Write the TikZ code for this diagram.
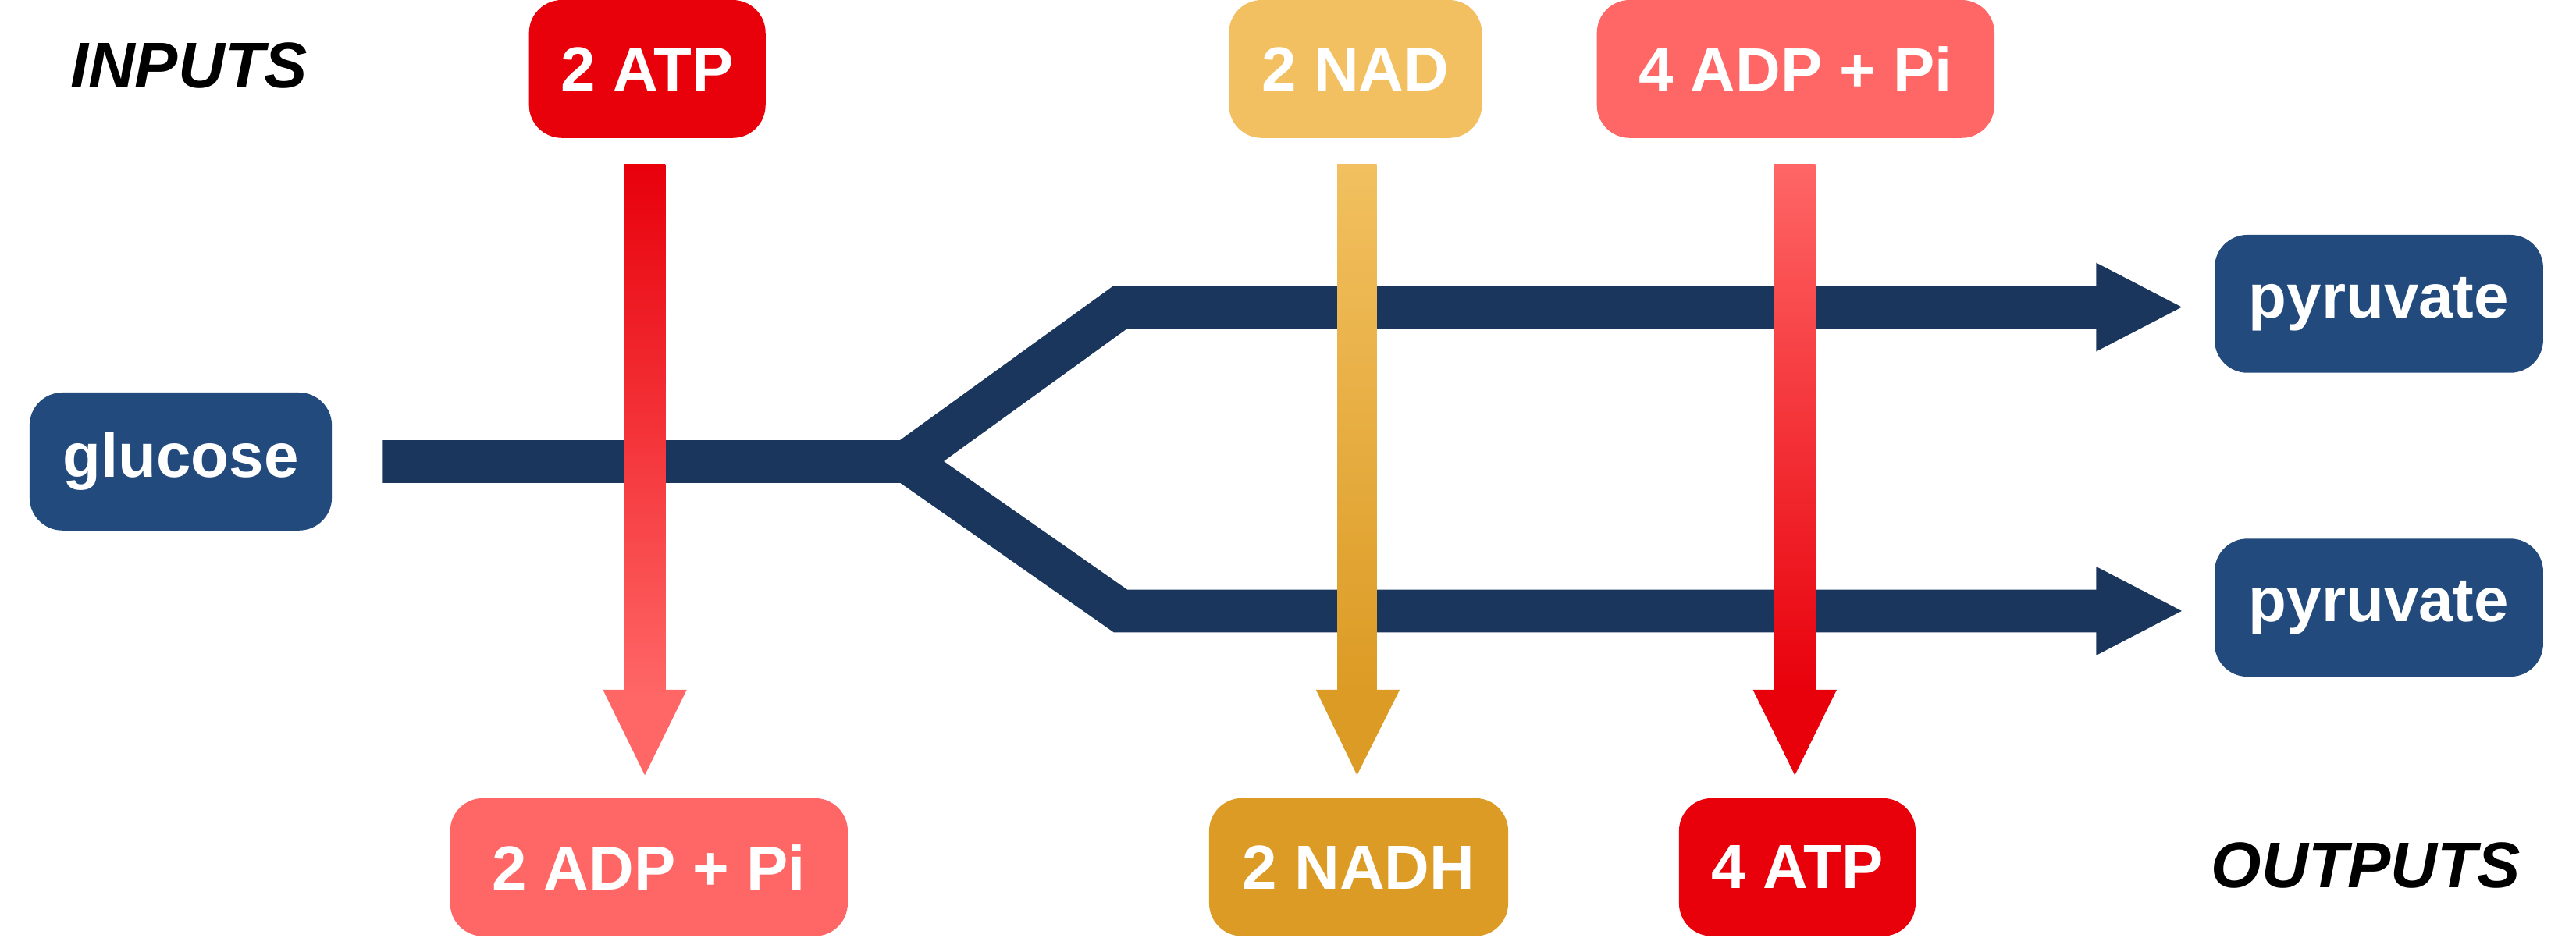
\documentclass[tikz,border=0pt]{standalone}
\usepackage{fontspec}
\setmainfont{Liberation Sans}
\definecolor{cred}{HTML}{E8000B}
\definecolor{csal}{HTML}{FF6666}
\definecolor{cyel}{HTML}{F2C060}
\definecolor{corg}{HTML}{DC9B24}
\definecolor{cblue}{HTML}{234A7C}
\definecolor{cpath}{HTML}{1B365D}
\begin{document}
\begin{tikzpicture}[x=0.5mm,y=-0.5mm,
  box/.style={draw=none,rounded corners=10mm,text=white,font=\fontsize{54}{60}\selectfont\bfseries,minimum height=42mm,inner sep=0pt},
  lbl/.style={font=\fontsize{56}{62}\selectfont\bfseries\itshape}]
\useasboundingbox (0,0) rectangle (1568,575);
\node[lbl] (in) at (115,40) {INPUTS};
\node[lbl] (out) at (1440,527) {OUTPUTS};
\node[box,fill=cred,minimum width=72mm] (atp) at (394,42) {2 ATP};
\node[box,fill=cyel,minimum width=77mm] (nad) at (825,42) {2 NAD};
\node[box,fill=csal,minimum width=121mm] (adp) at (1093,42) {4 ADP + Pi};
\node[box,fill=cblue,minimum width=92mm] (glu) at (110,281) {glucose};
\node[box,fill=cblue,minimum width=100mm] (py1) at (1448,185) {pyruvate};
\node[box,fill=cblue,minimum width=100mm] (py2) at (1448,370) {pyruvate};
\node[box,fill=csal,minimum width=121mm] (adp2) at (395,528) {2 ADP + Pi};
\node[box,fill=corg,minimum width=91mm] (nadh) at (827,528) {2 NADH};
\node[box,fill=cred,minimum width=72mm] (atp4) at (1094,528) {4 ATP};
% blue paths
\draw[cpath,line width=13mm,line join=miter] (233,281)--(552,281)--(682,187)--(1280,187);
\draw[cpath,line width=13mm,line join=miter] (552,281)--(682,372)--(1280,372);
\fill[cpath] (1276,160)--(1328,187)--(1276,214)--cycle;
\fill[cpath] (1276,345)--(1328,372)--(1276,399)--cycle;
% vertical arrows
\shade[top color=cred,bottom color=csal] (380,100) rectangle (405,422);
\fill[csal] (367,420)--(418,420)--(392.5,472)--cycle;
\shade[top color=cyel,bottom color=corg] (814,100) rectangle (838,422);
\fill[corg] (801,420)--(852,420)--(826,472)--cycle;
\shade[top color=csal,bottom color=cred] (1080,100) rectangle (1105,422);
\fill[cred] (1067,420)--(1118,420)--(1092.5,472)--cycle;
\end{tikzpicture}
\end{document}
